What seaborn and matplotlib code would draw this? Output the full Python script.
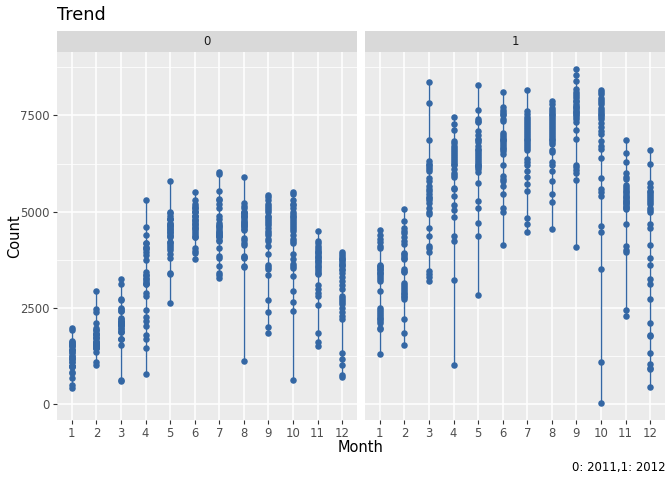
import numpy as np
import pandas as pd
import matplotlib
matplotlib.use("Agg")
import matplotlib.pyplot as plt
import seaborn as sns

MONTHS = list(range(1, 13))
YEARS = [0, 1]
POINT_COLOR = "#3467A4"

# daily rental counts per month (year 0 = 2011)
cnt_2011 = [
    [985, 801, 1349, 1562, 1600, 1606, 1510, 959, 822, 1321, 1263, 1162, 1406, 1421, 1248, 1204,
     1000, 683, 1650, 1927, 1543, 981, 986, 1416, 1985, 506, 431, 1167, 1098, 1096, 1501],
    [1360, 1526, 1550, 1708, 1005, 1623, 1712, 1530, 1605, 1538, 1746, 1472, 1589, 1913, 1815,
     2115, 2475, 2927, 1635, 1812, 1107, 1450, 1917, 1807, 1461, 1969, 2402, 1446, 1851],
    [2134, 1685, 1944, 2077, 605, 1872, 2133, 1891, 623, 1977, 2132, 2417, 2046, 2056, 2192, 2744,
     3239, 3117, 2471, 2077, 2703, 2121, 1865, 2210, 2496, 1693, 2028, 2425, 1536, 1685, 2227],
    [2252, 3249, 3115, 1795, 2808, 3141, 1471, 2455, 2895, 3348, 2034, 2162, 3267, 3126, 795, 3744,
     3429, 3204, 3944, 4189, 1683, 4036, 4191, 4073, 4400, 3872, 4058, 4595, 5312, 3351],
    [5805, 4400, 3786, 4097, 4050, 4222, 4459, 4333, 4362, 4803, 4660, 4555, 4640, 4800, 4960, 4450,
     4500, 4600, 4680, 4700, 4800, 4900, 4980, 3370, 3400, 2633, 4150, 4200, 3900, 4000, 4550],
    [5515, 5300, 5200, 5100, 5000, 4900, 4800, 4750, 4700, 4650, 4600, 4550, 4500, 4450, 4400,
     4350, 4330, 4060, 3974, 3915, 3767, 4900, 5020, 5150, 4880, 4580, 4690, 4780, 4990, 5100],
    [6043, 5990, 5530, 5340, 5310, 5100, 4880, 4660, 4590, 4540, 4480, 4440, 4380, 4330, 4260, 4230,
     4060, 3840, 3790, 3600, 3400, 3350, 3285, 4700, 4500, 4420, 4360, 5200, 4800, 4620, 4400],
    [5895, 5225, 5150, 5100, 4970, 4900, 4850, 4800, 4760, 4700, 4650, 4600, 4550, 4320, 4270, 4140,
     3860, 3800, 3560, 1115, 4990, 4880, 4730, 4620, 4180, 3830, 4520, 5000, 4950, 4680, 3580],
    [5423, 5380, 5300, 5200, 5150, 5100, 5050, 4980, 4900, 4850, 4800, 4750, 4700, 4650, 4580,
     4500, 4400, 4300, 4240, 4100, 3910, 3620, 3560, 3520, 3360, 2710, 2390, 2010, 1842, 4450],
    [5511, 5450, 5300, 5200, 5100, 5000, 4950, 4900, 4850, 4800, 4700, 4600, 4550, 4500, 4400, 4300,
     4250, 4180, 3910, 3760, 3650, 3600, 3540, 3330, 2930, 2660, 2430, 627, 5180, 4750, 4650],
    [4486, 4230, 4190, 4100, 4050, 4010, 3950, 3900, 3850, 3800, 3750, 3700, 3650, 3600, 3500,
     3400, 3370, 3100, 3000, 2900, 2800, 2580, 1840, 1620, 1500, 3940, 3820, 3720, 3550, 3450],
    [3940, 3900, 3850, 3800, 3750, 3700, 3650, 3600, 3500, 3400, 3300, 3200, 3100, 3000, 2800, 2700,
     2600, 2500, 2400, 2300, 2200, 1340, 1160, 1010, 760, 705, 3780, 3620, 3480, 2750, 2650],
]

# year 1 = 2012
cnt_2012 = [
    [4521, 4400, 4300, 4200, 4100, 4050, 3600, 3560, 3500, 3450, 3400, 3350, 3300, 3250, 3200, 2950,
     2500, 2450, 2400, 2350, 2300, 2250, 2200, 2150, 2120, 1980, 1950, 1301, 3620, 3500, 3400],
    [5062, 4770, 4580, 4450, 4330, 4150, 3930, 3850, 3760, 3500, 3420, 3150, 3050, 2950, 2850,
     2780, 2720, 2200, 1850, 1529, 3900, 3460, 3000, 2900, 2800, 4500, 4250, 3800, 3100],
    [8362, 7836, 6864, 6312, 6250, 6200, 6150, 6100, 5880, 5680, 5530, 5450, 5380, 5300, 5230, 5100,
     5000, 4930, 4580, 4380, 4100, 4050, 3950, 3450, 3380, 3300, 3200, 5800, 5600, 6050, 5350],
    [7460, 7280, 7130, 6840, 6780, 6700, 6650, 6600, 6550, 6500, 6450, 6400, 6350, 6300, 6250,
     6200, 6010, 5900, 5620, 5580, 5410, 5170, 5040, 4870, 4380, 4240, 3220, 1027, 6120, 5950],
    [8294, 7640, 7410, 7360, 7320, 7100, 7000, 6900, 6800, 6620, 6550, 6500, 6450, 6400, 6350, 6300,
     6250, 6200, 6150, 6100, 6030, 5740, 5280, 5100, 4710, 4360, 2843, 6700, 6600, 6180, 6850],
    [8120, 7710, 7650, 7600, 7500, 7400, 7360, 7050, 6950, 6900, 6850, 6800, 6750, 6700, 6650,
     6580, 6210, 5930, 5800, 5670, 5470, 5100, 4980, 4127, 7550, 6870, 6620, 7000, 6500, 5850],
    [8173, 7620, 7550, 7450, 7400, 7300, 7250, 7200, 7100, 7050, 7000, 6950, 6900, 6800, 6700, 6600,
     6360, 6300, 6200, 6060, 5890, 5710, 5540, 4840, 4670, 4460, 7350, 6850, 6750, 7150, 6650],
    [7870, 7800, 7700, 7600, 7500, 7400, 7300, 7250, 7150, 7050, 7000, 6900, 6800, 6750, 6540, 6300,
     6060, 5800, 5470, 5250, 4549, 7350, 7200, 7100, 6950, 6850, 7450, 7550, 7650, 6600, 6200],
    [8714, 8555, 8395, 8200, 8120, 8050, 8000, 7950, 7880, 7800, 7750, 7700, 7650, 7600, 7550,
     7500, 7450, 7400, 7330, 7130, 6880, 6210, 6150, 6080, 6000, 5820, 4073, 7870, 7720, 7580],
    [8156, 8100, 8050, 7950, 7850, 7800, 7700, 7600, 7550, 7500, 7450, 7400, 7300, 7200, 7100, 7030,
     6840, 6700, 6620, 6390, 5880, 5580, 5500, 5420, 4640, 4460, 3510, 1096, 22, 7900, 7650],
    [6852, 6536, 6280, 6000, 5900, 5840, 5700, 5600, 5500, 5450, 5400, 5350, 5300, 5250, 5200,
     5150, 5100, 5060, 4670, 4100, 4000, 3940, 2454, 2277, 5650, 5550, 5380, 5220, 5130, 5280],
    [6606, 6234, 5750, 5650, 5550, 5450, 5400, 5350, 5300, 5200, 5100, 5000, 4670, 4580, 4130, 3800,
     3620, 3240, 3110, 2730, 2110, 1800, 1760, 1340, 1030, 950, 920, 441, 5500, 5250, 5050],
]

Y_BREAKS = [0, 2500, 5000, 7500]
Y_MINOR = [1250, 3750, 6250, 8750]


def build_frame():
    rows = []
    for yr, per_month in zip(YEARS, [cnt_2011, cnt_2012]):
        for m, vals in zip(MONTHS, per_month):
            for v in vals:
                rows.append({"yr": yr, "mnth": m, "cnt": v})
    return pd.DataFrame(rows)


df = build_frame()

W, H = 672, 480
fig = plt.figure(figsize=(W / 100, H / 100), dpi=100)

panel_top, panel_bot = 52, 420
strip_top = 31
panels = [(57, 357), (365, 665)]

lo, hi = df["cnt"].min(), df["cnt"].max()
pad = (hi - lo) * 0.05
ylim = (lo - pad, hi + pad)

for yr, (x0, x1) in zip(YEARS, panels):
    ax = fig.add_axes([x0 / W, 1 - panel_bot / H, (x1 - x0) / W, (panel_bot - panel_top) / H])
    ax.set_facecolor("#EBEBEB")
    sub = df[df["yr"] == yr]

    for y in Y_MINOR:
        ax.axhline(y, color="white", lw=0.55, zorder=0)
    for y in Y_BREAKS:
        ax.axhline(y, color="white", lw=1.1, zorder=0)
    for m in MONTHS:
        ax.axvline(m, color="white", lw=1.1, zorder=0)

    rng = sub.groupby("mnth")["cnt"].agg(["min", "max"]).reset_index()
    ax.vlines(rng["mnth"], rng["min"], rng["max"], color=POINT_COLOR, lw=1.0, zorder=2)
    sns.scatterplot(data=sub, x="mnth", y="cnt", color=POINT_COLOR, s=22, linewidth=0,
                    ax=ax, zorder=3, legend=False)

    ax.set_xlim(0.4, 12.6)
    ax.set_ylim(*ylim)
    ax.set_xticks(MONTHS)
    ax.set_xticklabels([str(m) for m in MONTHS])
    ax.set_yticks(Y_BREAKS)
    if yr == 0:
        ax.set_yticklabels([str(v) for v in Y_BREAKS])
        ax.tick_params(axis="y", length=3, width=0.8, color="#333333", labelcolor="#4D4D4D",
                       labelsize=8.4, pad=2)
    else:
        ax.set_yticklabels([])
        ax.tick_params(axis="y", length=0)
    ax.tick_params(axis="x", length=3, width=0.8, color="#333333", labelcolor="#4D4D4D",
                   labelsize=8.4, pad=2)
    ax.set_xlabel("")
    ax.set_ylabel("")
    for sp in ax.spines.values():
        sp.set_visible(False)

    sax = fig.add_axes([x0 / W, 1 - panel_top / H, (x1 - x0) / W, (panel_top - strip_top) / H])
    sax.set_facecolor("#D9D9D9")
    sax.set_xticks([])
    sax.set_yticks([])
    for sp in sax.spines.values():
        sp.set_visible(False)
    sax.text(0.5, 0.5, str(yr), ha="center", va="center", fontsize=8.4, color="#1A1A1A",
             transform=sax.transAxes)

fig.text(57 / W, 1 - 15 / H, "Trend", ha="left", va="center", fontsize=12.7, color="black")
fig.text(361 / W, 1 - 447 / H, "Month", ha="center", va="center", fontsize=10.5, color="black")
fig.text(15 / W, 1 - 236 / H, "Count", ha="center", va="center", rotation=90, fontsize=10.5,
         color="black")
fig.text(665 / W, 1 - 468 / H, "0: 2011,1: 2012", ha="right", va="center", fontsize=8.4,
         color="black")

fig.savefig("out.png", dpi=100)
